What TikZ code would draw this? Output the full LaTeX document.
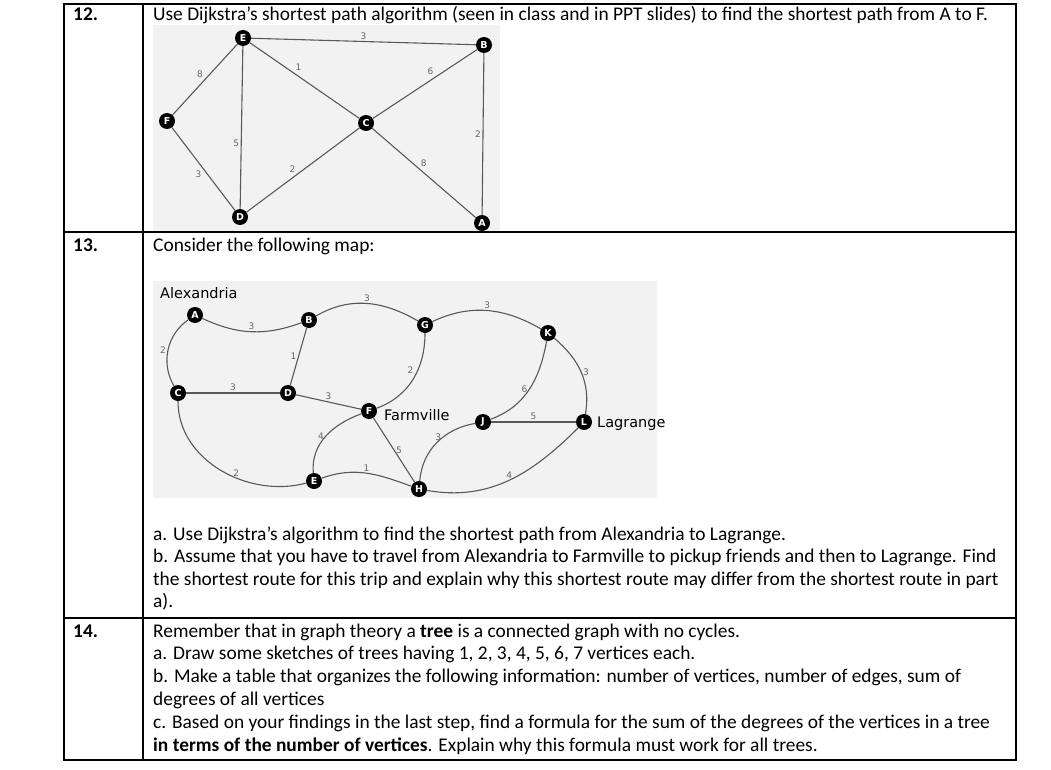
\documentclass[tikz,border=0pt]{standalone}
\usepackage{fontspec}
\setmainfont{Carlito}
\newfontfamily\gfont{DejaVu Sans}
\begin{document}
\begin{tikzpicture}[x=1pt,y=-1pt,
  txt/.style={anchor=base west,inner sep=0,font=\fontsize{19.4}{22}\selectfont},
  vtx/.style={circle,fill=black,text=white,inner sep=0,minimum size=16pt,font=\gfont\bfseries\fontsize{9.5}{9.5}\selectfont},
  ed/.style={draw=black!65,line width=1.1pt},
  wl/.style={font=\gfont\fontsize{9}{9}\selectfont,text=black!60,inner sep=1.5pt},
  citylbl/.style={font=\gfont\fontsize{14.5}{14.5}\selectfont,inner sep=0}]
\useasboundingbox (0,0) rectangle (1051,770);
\fill[white] (0,0) rectangle (1051,770);
% table
\draw[line width=1.2pt] (64,4) rectangle (1016,760);
\draw[line width=1.2pt] (143,4) -- (143,760);
\draw[line width=1.2pt] (64,232) -- (1016,232) (64,618) -- (1016,618);
\node[txt,font=\bfseries\fontsize{19.4}{22}\selectfont] at (73,21) {12.};
\node[txt,font=\bfseries\fontsize{19.4}{22}\selectfont] at (73,251) {13.};
\node[txt,font=\bfseries\fontsize{19.4}{22}\selectfont] at (73,637) {14.};
\node[txt] at (153,21) {Use Dijkstra’s shortest path algorithm (seen in class and in PPT slides) to find the shortest path from A to F.};
\node[txt] at (153,251) {Consider the following map:};
\node[txt] at (153,540) {a. Use Dijkstra’s algorithm to find the shortest path from Alexandria to Lagrange.};
\node[txt] at (153,562) {b. Assume that you have to travel from Alexandria to Farmville to pickup friends and then to Lagrange. Find};
\node[txt] at (153,585) {the shortest route for this trip and explain why this shortest route may differ from the shortest route in part};
\node[txt] at (153,607) {a).};
\node[txt] at (153,637) {Remember that in graph theory a \textbf{tree} is a connected graph with no cycles.};
\node[txt] at (153,659) {a. Draw some sketches of trees having 1, 2, 3, 4, 5, 6, 7 vertices each.};
\node[txt] at (153,682) {b. Make a table that organizes the following information: number of vertices, number of edges, sum of};
\node[txt] at (153,705) {degrees of all vertices};
\node[txt] at (153,728) {c. Based on your findings in the last step, find a formula for the sum of the degrees of the vertices in a tree};
\node[txt] at (153,751) {\textbf{in terms of the number of vertices}. Explain why this formula must work for all trees.};
% graph 1
\fill[black!5] (153,25) rectangle (500,231);
\node[vtx] (E) at (243,38) {E};
\node[vtx] (B) at (484,45) {B};
\node[vtx] (F) at (167,121) {F};
\node[vtx] (C) at (366,123) {C};
\node[vtx] (D) at (240,217) {D};
\node[vtx] (A) at (482,223) {A};
\draw[ed] (E) -- node[wl,above]{3} (B);
\draw[ed] (E) -- node[wl,above left]{8} (F);
\draw[ed] (E) -- node[wl,above right,pos=0.4]{1} (C);
\draw[ed] (E) -- node[wl,left,pos=0.6]{5} (D);
\draw[ed] (B) -- node[wl,above left,pos=0.4]{6} (C);
\draw[ed] (B) -- node[wl,left]{2} (A);
\draw[ed] (F) -- node[wl,below left]{3} (D);
\draw[ed] (C) -- node[wl,above left,pos=0.55]{2} (D);
\draw[ed] (C) -- node[wl,above right,pos=0.45]{8} (A);
% graph 2
\fill[black!5] (153,281) rectangle (657,498);
\node[vtx] (a) at (195,315) {A};
\node[vtx] (b) at (309,320) {B};
\node[vtx] (g) at (425,325) {G};
\node[vtx] (k) at (548,333) {K};
\node[vtx] (c) at (178,393) {C};
\node[vtx] (d) at (288,393) {D};
\node[vtx] (f) at (369,411) {F};
\node[vtx] (j) at (483,422) {J};
\node[vtx] (l) at (584,422) {L};
\node[vtx] (e) at (314,481) {E};
\node[vtx] (h) at (419,489) {H};
\node[citylbl,anchor=base west] at (160,298) {Alexandria};
\node[citylbl,anchor=west] at (384,415) {Farmville};
\node[citylbl,anchor=west] at (597,424) {Lagrange};
\draw[ed] (a) to[out=-25,in=200] node[wl,above,pos=0.5]{3} (b);
\draw[ed] (b) to[out=30,in=150] node[wl,above]{3} (g);
\draw[ed] (g) to[out=25,in=150] node[wl,above]{3} (k);
\draw[ed] (a) to[out=215,in=120] node[wl,left]{2} (c);
\draw[ed] (c) -- node[wl,above]{3} (d);
\draw[ed] (b) -- node[wl,left]{1} (d);
\draw[ed] (d) -- node[wl,above]{3} (f);
\draw[ed] (g) to[out=-90,in=20] node[wl,above left,pos=0.45]{2} (f);
\draw[ed] (k) to[out=-100,in=20] node[wl,left,pos=0.5]{6} (j);
\draw[ed] (j) -- node[wl,above]{5} (l);
\draw[ed] (k) to[out=-40,in=80] node[wl,right]{3} (l);
\draw[ed] (f) to[out=200,in=95] node[wl,left,pos=0.5]{4} (e);
\draw[ed] (f) -- node[wl,right,pos=0.5]{5} (h);
\draw[ed] (e) to[out=20,in=160] node[wl,above]{1} (h);
\draw[ed] (j) to[out=190,in=85] node[wl,left,pos=0.4]{3} (h);
\draw[ed] (h) to[out=-10,in=225] node[wl,above,pos=0.5]{4} (l);
\draw[ed] (c) to[out=-90,in=195] node[wl,above,pos=0.6]{2} (e);
\end{tikzpicture}
\end{document}
